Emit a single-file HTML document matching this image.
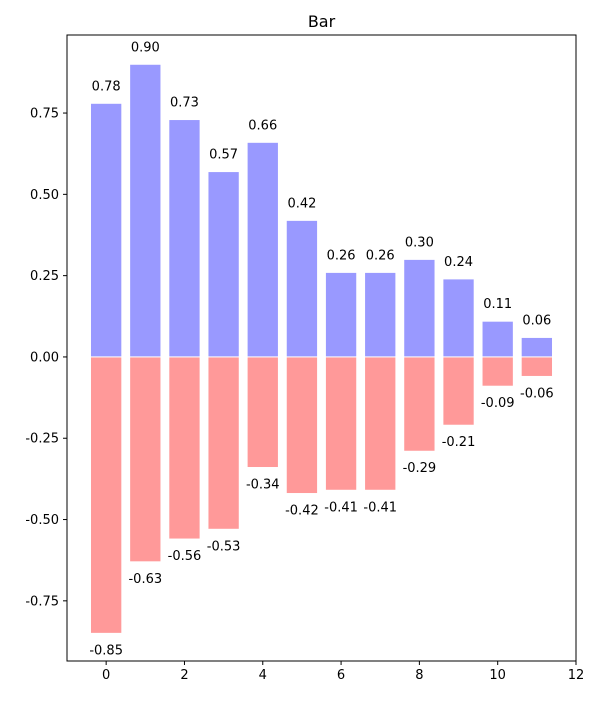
<!DOCTYPE html>
<html><head><meta charset="utf-8"><style>
body{margin:0;background:#fff;font-family:"Liberation Sans","DejaVu Sans",sans-serif;}
svg text{font-family:"DejaVu Sans","Liberation Sans",sans-serif;font-size:13px;fill:#000;}
</style></head><body>
<svg id="chart" width="600" height="700"></svg>
<script>
const categories=[0,1,2,3,4,5,6,7,8,9,10,11];
const positiveValues=[0.78,0.90,0.73,0.57,0.66,0.42,0.26,0.26,0.30,0.24,0.11,0.06];
const negativeValues=[-0.85,-0.63,-0.56,-0.53,-0.34,-0.42,-0.41,-0.41,-0.29,-0.21,-0.09,-0.06];
const xTicks=[0,2,4,6,8,10,12];
const yTicks=[-0.75,-0.5,-0.25,0,0.25,0.5,0.75];
const L=67,R=576,T=35,B=661,xmin=-1,xmax=12,ymin=-0.935,ymax=0.99;
const sx=v=>L+(v-xmin)/(xmax-xmin)*(R-L);
const sy=v=>B-(v-ymin)/(ymax-ymin)*(B-T);
const svg=document.getElementById('chart');
const NS='http://www.w3.org/2000/svg';
function mk(t,a){const e=document.createElementNS(NS,t);for(const k in a)e.setAttribute(k,a[k]);svg.appendChild(e);return e;}
const bw=0.8;
categories.forEach((c,i)=>{
  const x0=sx(c-bw/2),w=sx(c+bw/2)-x0;
  let r=mk('rect',{x:x0,y:sy(positiveValues[i]),width:w,height:sy(0)-sy(positiveValues[i]),fill:'#9999ff',stroke:'#fff','stroke-width':1});
  
  
  r=mk('rect',{x:x0,y:sy(0),width:w,height:sy(negativeValues[i])-sy(0),fill:'#ff9999',stroke:'#fff','stroke-width':1});
  
  
  let t=mk('text',{x:sx(c),y:sy(positiveValues[i])-13,'text-anchor':'middle'});
  t.textContent=positiveValues[i].toFixed(2);
  
  
  t=mk('text',{x:sx(c),y:sy(negativeValues[i])+21,'text-anchor':'middle'});
  t.textContent=negativeValues[i].toFixed(2);
  
  
});
const frame=mk('rect',{x:L,y:T,width:R-L,height:B-T,fill:'none',stroke:'#000','stroke-width':1});


xTicks.forEach(v=>{
  const x=sx(v);
  mk('line',{x1:x,x2:x,y1:B,y2:B+4,stroke:'#000'});
  const t=mk('text',{x:x,y:B+18,'text-anchor':'middle'});t.textContent=v;
  
  
});
yTicks.forEach(v=>{
  const y=sy(v);
  mk('line',{x1:L-4,x2:L,y1:y,y2:y,stroke:'#000'});
  const t=mk('text',{x:L-8,y:y+4.5,'text-anchor':'end'});t.textContent=v.toFixed(2);
  
  
});
const title=mk('text',{x:(L+R)/2,y:T-8,'text-anchor':'middle',style:'font-size:16px'});
title.textContent='Bar';


</script>
</body></html>
